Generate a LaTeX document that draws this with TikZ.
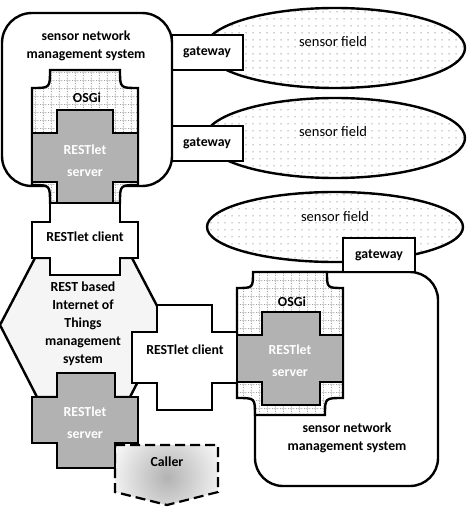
\documentclass[tikz,border=0pt]{standalone}
\usepackage{fontspec}
\setmainfont{Carlito}
\usetikzlibrary{patterns.meta}
\tikzdeclarepattern{
  name=sparsedots,
  type=uncolored,
  bounding box={(0,0) and (6.5pt,6.5pt)},
  tile size={(6.5pt,6.5pt)},
  code={\fill (3.25pt,3.25pt) circle (0.55pt);}
}
\tikzdeclarepattern{
  name=osgigrid,
  type=uncolored,
  bounding box={(0,0) and (8pt,8pt)},
  tile size={(8pt,8pt)},
  code={\draw[line width=0.5pt, dash pattern=on 1pt off 1pt] (0,4pt)--(8pt,4pt) (4pt,0)--(4pt,8pt);}
}
\begin{document}
\begin{tikzpicture}[x=1pt,y=-1pt,
  outline/.style={draw=black, line width=2.4pt},
  whitebox/.style={outline, fill=white},
  field/.style={outline, preaction={fill=white}, pattern=sparsedots, pattern color=black!80},
  osgi/.style={outline, preaction={fill=white}, pattern=osgigrid, pattern color=black!55},
  server/.style={outline, fill=black!30},
  hexa/.style={outline, fill=black!4},
  callerline/.style={draw=black, line width=2.2pt, dash pattern=on 10pt off 5pt},
  lbl/.style={font=\bfseries\fontsize{13.8}{18}\selectfont, align=center, inner sep=0pt},
  flbl/.style={font=\fontsize{14.5}{18}\selectfont, align=center, inner sep=0pt},
  slbl/.style={font=\bfseries\fontsize{13.8}{22}\selectfont, align=center, inner sep=0pt, text=white}
]
\useasboundingbox (0,0) rectangle (474,508);

% sensor fields (top)
\path[field] (335,48) ellipse [x radius=130, y radius=40];
\path[field] (335,138) ellipse [x radius=130, y radius=40];
\node[flbl] (sf1) at (333,42) {sensor field};
\node[flbl] (sf2) at (333,132) {sensor field};

% gateways (top)
\draw[whitebox] (172,35) rectangle (243,70);
\draw[whitebox] (172,126) rectangle (243,161);
\node[lbl] (gw1) at (207,52) {gateway};
\node[lbl] (gw2) at (207,143) {gateway};

% SNMS 1
\draw[whitebox, rounded corners=30pt] (2,13) rectangle (172,186);
\node[lbl] (snms1) at (86,46) {sensor network\\management system};

% OSGi 1
\path[osgi] (50,70) -- (120,70) .. controls (120,88) .. (138,88) -- (138,185)
  .. controls (120,185) .. (120,203) -- (50,203) .. controls (50,185) .. (32,185)
  -- (32,88) .. controls (50,88) .. (50,70) -- cycle;
\node[lbl] (osgi1) at (87,98) {OSGi};

% RESTlet server 1
\draw[server] (57,110) -- (113,110) -- (113,133) -- (138,133) -- (138,182) -- (113,182)
  -- (113,203) -- (57,203) -- (57,182) -- (32,182) -- (32,133) -- (57,133) -- cycle;
\node[slbl] (srv1) at (85,161) {RESTlet\\server};

% hexagon
\draw[hexa] (0,325) -- (35,258) -- (132,258) -- (167,325) -- (130,397) -- (37,397) -- cycle;
\node[lbl] (iot) at (83,324) {REST based\\Internet of\\Things\\management\\system};

% RESTlet client 1
\draw[whitebox] (50,203) -- (120,203) -- (120,222) -- (138,222) -- (138,258) -- (120,258)
  -- (120,275) -- (50,275) -- (50,258) -- (32,258) -- (32,222) -- (50,222) -- cycle;
\node[lbl] (cl1) at (85,237) {RESTlet client};

% Caller
\fill[black!4] (115,445) -- (218,445) -- (218,492) -- (167,505) -- (115,492) -- cycle;
\begin{scope}
  \clip (115,445) -- (218,445) -- (218,492) -- (167,505) -- (115,492) -- cycle;
  \shade[inner color=black!30, outer color=black!4] (167,477) circle (56);
\end{scope}
\draw[callerline] (115,445) -- (218,445) -- (218,492) -- (167,505) -- (115,492) -- cycle;
\node[lbl] (caller) at (167,462) {Caller};

% RESTlet server 3
\draw[server] (57,373) -- (115,373) -- (115,397) -- (138,397) -- (138,443) -- (115,443)
  -- (115,468) -- (57,468) -- (57,443) -- (32,443) -- (32,397) -- (57,397) -- cycle;
\node[slbl] (srv3) at (85,423) {RESTlet\\server};

% sensor field 3 and gateway 3
\path[field] (335,227) ellipse [x radius=128, y radius=35];
\node[flbl] (sf3) at (335,217) {sensor field};
\draw[whitebox, rounded corners=28pt] (255,272) rectangle (438,486);
\draw[whitebox] (343,238) rectangle (415,272);
\node[lbl] (gw3) at (379,255) {gateway};
\node[lbl] (snms2) at (347,438) {sensor network\\management system};

% OSGi 2
\path[osgi] (253,272) -- (327,272) .. controls (327,288) .. (343,288) -- (343,398)
  .. controls (325,398) .. (325,415) -- (255,415) .. controls (255,398) .. (237,398)
  -- (237,288) .. controls (253,288) .. (253,272) -- cycle;
\node[lbl] (osgi2) at (292,302) {OSGi};

% RESTlet server 2
\draw[server] (262,312) -- (320,312) -- (320,335) -- (343,335) -- (343,382) -- (320,382)
  -- (320,405) -- (262,405) -- (262,382) -- (237,382) -- (237,335) -- (262,335) -- cycle;
\node[slbl] (srv2) at (290,361) {RESTlet\\server};

% RESTlet client 2
\draw[whitebox] (157,305) -- (212,305) -- (212,332) -- (237,332) -- (237,383) -- (212,383)
  -- (212,410) -- (157,410) -- (157,383) -- (132,383) -- (132,332) -- (157,332) -- cycle;
\node[lbl] (cl2) at (185,350) {RESTlet client};
\end{tikzpicture}
\end{document}
